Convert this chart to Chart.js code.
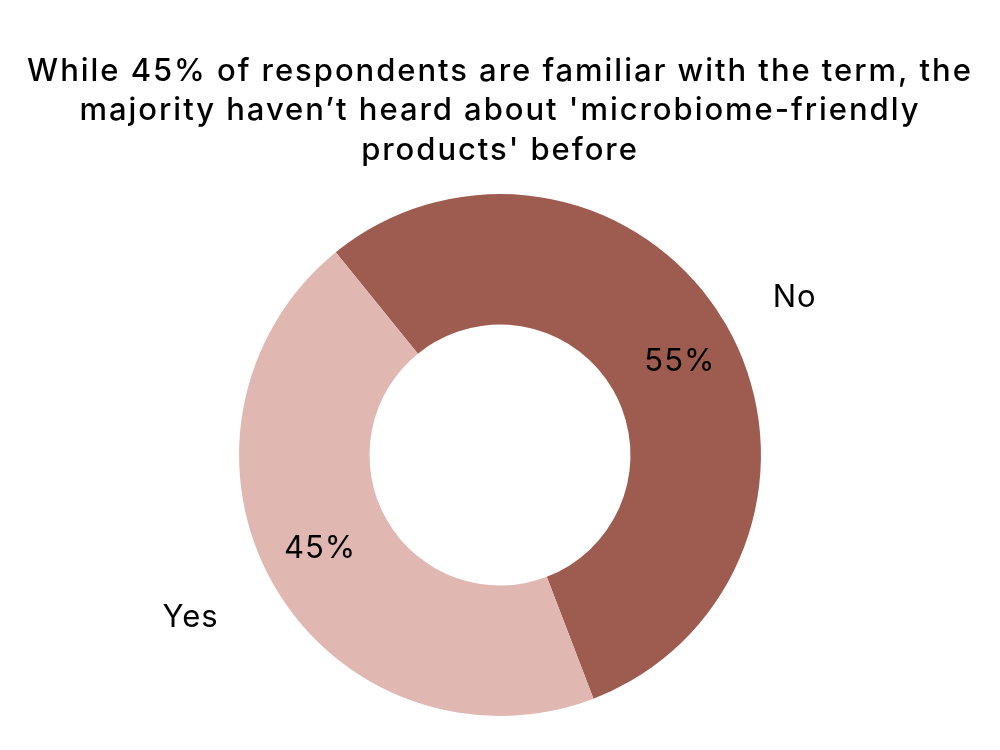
<!DOCTYPE html>
<html>
<head>
<meta charset="utf-8">
<script src="https://cdn.jsdelivr.net/npm/chart.js@4"></script>
<style>
    html, body { margin: 0; padding: 0; background: #ffffff; }
    #wrap { width: 1000px; height: 750px; }
</style>
</head>
<body>
<div id="wrap"><canvas id="familiarChart"></canvas></div>
<script>
// Chart data
const categories = ['No', 'Yes'];
const shares = [55, 45];
const sliceColors = ['#9E5B4F', '#E0B8B1'];
const titleLines = [
    'While 45% of respondents are familiar with the term, the',
    'majority haven\u2019t heard about \'microbiome-friendly',
    'products\' before'
];

const FONT = 'Inter, "Noto Sans", sans-serif';

// Widen the title a little, the original face is a wide geometric one
const titleSpacing = {
    id: 'titleSpacing',
    beforeDraw(chart) {
        chart.ctx.letterSpacing = '1.95px';
    },
    beforeDatasetsDraw(chart) {
        chart.ctx.letterSpacing = '0px';
    }
};

// Draws percentages inside the ring and category names outside it
const sliceLabels = {
    id: 'sliceLabels',
    afterDatasetsDraw(chart) {
        const ctx = chart.ctx;
        const meta = chart.getDatasetMeta(0);
        const values = chart.data.datasets[0].data;
        const total = values.reduce((a, b) => a + b, 0);
        ctx.save();
        ctx.letterSpacing = '1px';
        ctx.fillStyle = '#000000';
        ctx.font = '31px ' + FONT;
        ctx.textBaseline = 'middle';
        meta.data.forEach(function(arc, i) {
            const p = arc.getProps(['x', 'y', 'startAngle', 'endAngle', 'innerRadius', 'outerRadius']);
            const mid = (p.startAngle + p.endAngle) / 2;
            const pctAngle = mid + 0.045;
            const rIn = (p.innerRadius + p.outerRadius) / 2 + 7;
            ctx.textAlign = 'center';
            ctx.fillText(Math.round(values[i] / total * 100) + '%',
                p.x + Math.cos(pctAngle) * rIn, p.y + Math.sin(pctAngle) * rIn);
            const cos = Math.cos(mid);
            const rOut = p.outerRadius + (cos >= 0 ? 54 : 64);
            ctx.textAlign = cos >= 0 ? 'left' : 'right';
            ctx.fillText(chart.data.labels[i], p.x + cos * rOut, p.y + Math.sin(mid) * rOut);
        });
        ctx.restore();
    }
};

document.addEventListener('DOMContentLoaded', function() {
    const ctx = document.getElementById('familiarChart').getContext('2d');
    new Chart(ctx, {
        type: 'doughnut',
        data: {
            labels: categories,
            datasets: [{
                data: shares,
                backgroundColor: sliceColors,
                borderWidth: 0
            }]
        },
        options: {
            responsive: true,
            maintainAspectRatio: false,
            animation: false,
            rotation: -39,
            cutout: '50%',
            layout: {
                padding: { top: 0, bottom: 34, left: 0, right: 0 }
            },
            plugins: {
                legend: { display: false },
                tooltip: { enabled: false },
                title: {
                    display: true,
                    text: titleLines,
                    color: '#000000',
                    font: { family: FONT, size: 31, weight: '500', lineHeight: 1.27 },
                    padding: { top: 52, bottom: 24 }
                }
            }
        },
        plugins: [titleSpacing, sliceLabels]
    });
});
</script>
</body>
</html>
